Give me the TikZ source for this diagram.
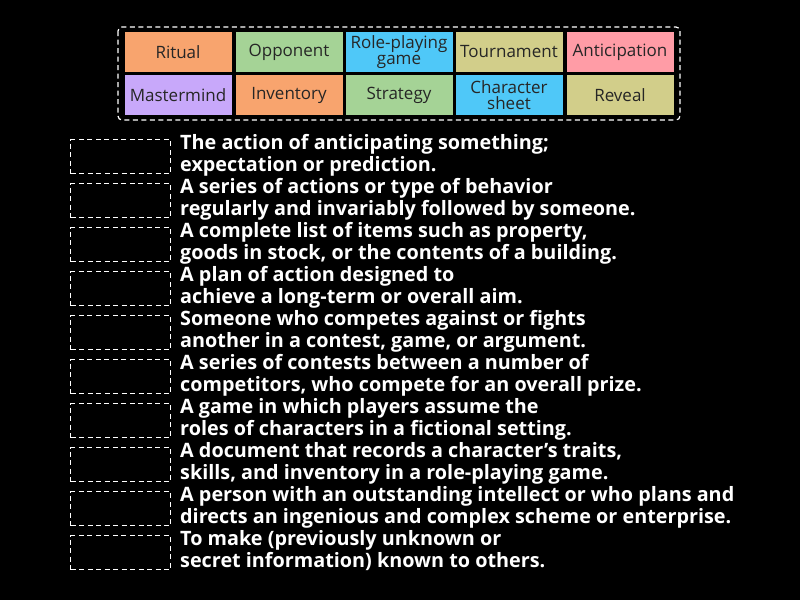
\documentclass[tikz,border=0pt]{standalone}
\usepackage{fontspec}
\setmainfont{Open Sans}
\begin{document}
\begin{tikzpicture}[x=1pt,y=-1pt,
 tile/.style={minimum width=107pt,minimum height=40pt,inner sep=1pt,align=center,text=black!85,font=\fontsize{17}{16}\selectfont},
 ans/.style={draw=white,dash pattern=on 5pt off 3.5pt,line width=1.2pt,minimum width=100pt,minimum height=34pt,anchor=north west},
 clue/.style={anchor=north west,align=left,text=white,inner sep=0pt,font=\fontsize{19.8}{22}\selectfont\bfseries}]
\fill[black] (0,0) rectangle (800,600);
\useasboundingbox (0,0) rectangle (800,600);
\draw[white,dash pattern=on 5pt off 3.5pt,line width=1.2pt,rounded corners=4pt] (118,27) rectangle (680,120);
\definecolor{cor}{HTML}{F8A46E}
\definecolor{cgr}{HTML}{A5D396}
\definecolor{ccy}{HTML}{4FC8F8}
\definecolor{col}{HTML}{D2CE8A}
\definecolor{cpk}{HTML}{FF9CA6}
\definecolor{cpu}{HTML}{C8A8FA}
\node[tile,fill=cor] (t1) at (178,52) {Ritual};
\node[tile,fill=cgr] (t2) at (289,52) {Opponent};
\node[tile,fill=ccy] (t3) at (399,52) {Role-playing\\game};
\node[tile,fill=col] (t4) at (509,52) {Tournament};
\node[tile,fill=cpk] (t5) at (620,52) {Anticipation};
\node[tile,fill=cpu] (t6) at (178,95) {Mastermind};
\node[tile,fill=cor] (t7) at (289,95) {Inventory};
\node[tile,fill=cgr] (t8) at (399,95) {Strategy};
\node[tile,fill=ccy] (t9) at (509,95) {Character\\sheet};
\node[tile,fill=col] (t10) at (620,95) {Reveal};
\foreach \i/\t in {0/{The action of anticipating something;\\expectation or prediction.},
 1/{A series of actions or type of behavior\\regularly and invariably followed by someone.},
 2/{A complete list of items such as property,\\goods in stock, or the contents of a building.},
 3/{A plan of action designed to\\achieve a long-term or overall aim.},
 4/{Someone who competes against or fights\\another in a contest, game, or argument.},
 5/{A series of contests between a number of\\competitors, who compete for an overall prize.},
 6/{A game in which players assume the\\roles of characters in a fictional setting.},
 7/{A document that records a character's traits,\\skills, and inventory in a role-playing game.},
 8/{A person with an outstanding intellect or who plans and\\directs an ingenious and complex scheme or enterprise.},
 9/{To make (previously unknown or\\secret information) known to others.}}{
 \node[ans] (a\i) at (70,139+44*\i) {};
 \node[clue] (c\i) at (180,134+44*\i) {\t};
}
\end{tikzpicture}
\end{document}
